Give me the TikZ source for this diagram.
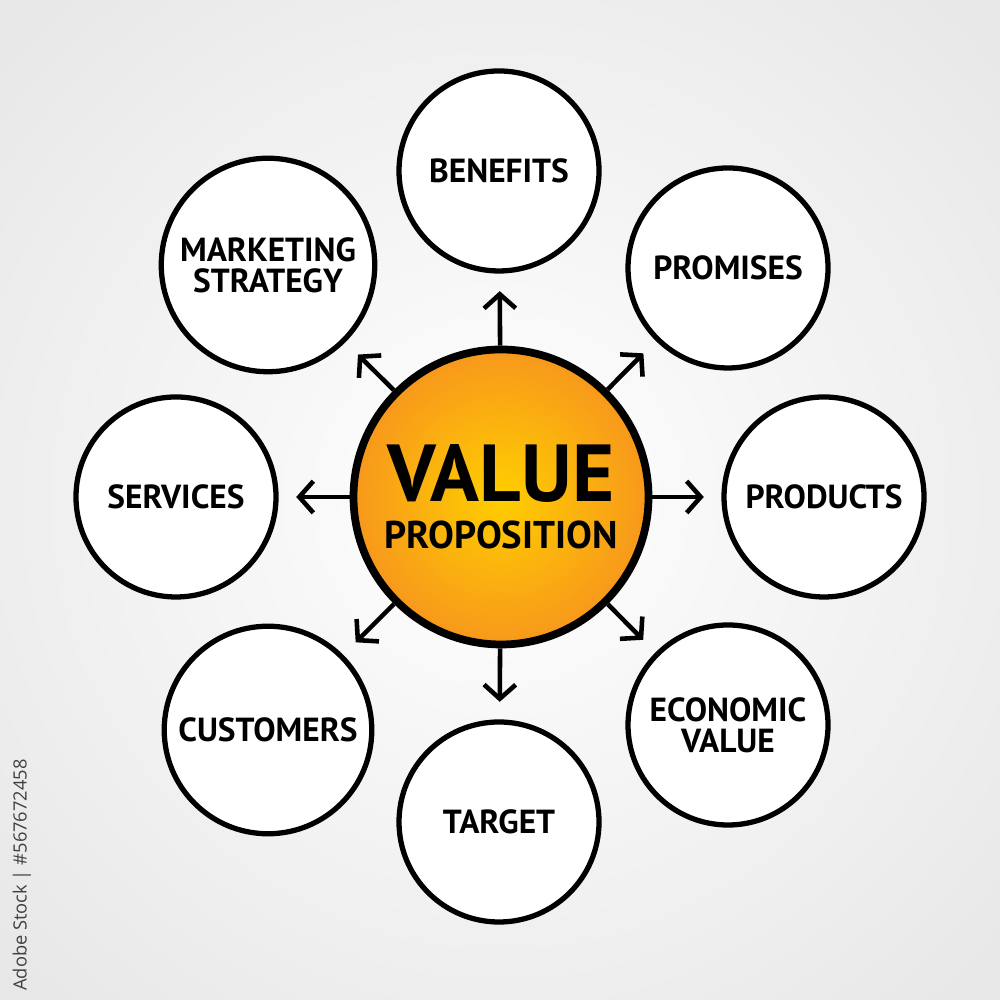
\documentclass[tikz,border=0pt]{standalone}
\usepackage{fontspec}
\setmainfont{PT Sans}
\newfontfamily\stockfont{Open Sans}
\usetikzlibrary{arrows.meta}

\definecolor{vpinner}{RGB}{255,206,0}
\definecolor{vpouter}{RGB}{247,152,28}

\begin{document}
\begin{tikzpicture}[
  idea/.style={circle, draw=black, line width=1.5pt, fill=white, minimum size=2cm,
    align=center, font=\bfseries\fontsize{9.5}{8.8}\selectfont},
  arr/.style={line width=1.3pt, -{Straight Barb[length=4pt,width=9pt,line width=1.3pt]}, shorten >=5pt}
]
 %\draw[step=1, gray, very thin] (0,0) grid (10,10);
\useasboundingbox (0,0) rectangle (10,10);
\begin{scope}
 \clip (0,0) rectangle (10,10);
 \shade[inner color=white, outer color=black!10] (5,5) circle (7.4);
\end{scope}

 % centre
 \node[circle, draw=black, line width=2.2pt, inner color=vpinner, outer color=vpouter,
   minimum size=2.95cm, align=center] (vp) at (5.01,5.03)
   {\bfseries\fontsize{23}{23}\selectfont VALUE\\[1.5pt]\bfseries\fontsize{11}{12}\selectfont PROPOSITION};

 % ideas round it
 \node[idea] (ben) at (4.99,8.29) {BENEFITS};
 \node[idea] (pro) at (7.28,7.32) {PROMISES};
 \node[idea] (prd) at (8.24,5.03) {PRODUCTS};
 \node[idea] (eco) at (7.28,2.75) {ECONOMIC\\VALUE};
 \node[idea] (tar) at (4.99,1.78) {TARGET};
 \node[idea] (cus) at (2.68,2.70) {CUSTOMERS};
 \node[idea] (ser) at (1.76,5.03) {SERVICES};
 \node[idea] (mar) at (2.68,7.35) {MARKETING\\STRATEGY};

 \foreach \n in {ben,pro,prd,eco,tar,cus,ser,mar}
   \draw[arr] (vp) -- (\n);

 \node[rotate=90, text=black!75, font=\stockfont\fontsize{5.2}{6}\selectfont] (stk) at (0.22,1.25) {Adobe Stock | \#567672458};
\end{tikzpicture}
\end{document}
